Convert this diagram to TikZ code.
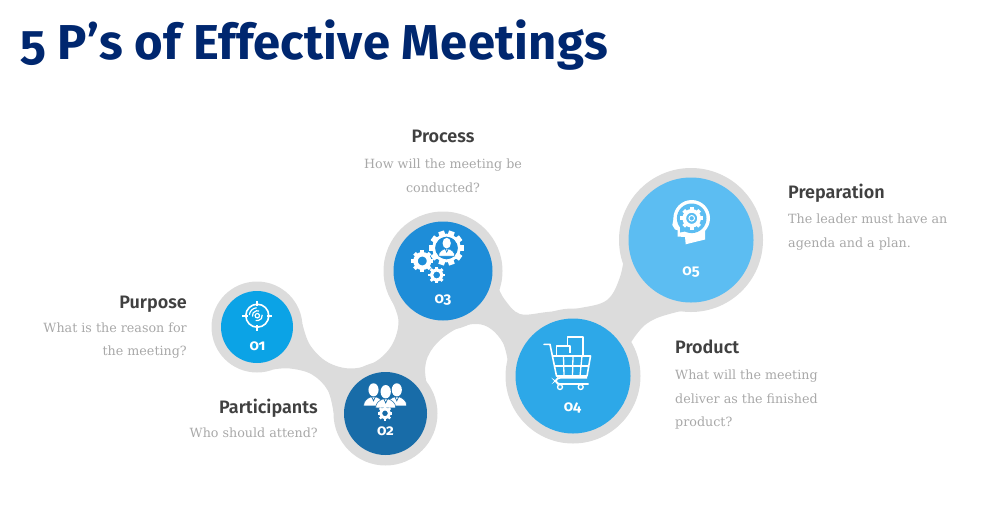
\documentclass[tikz,border=0pt]{standalone}
\usepackage{fontspec}
\usepackage{tikz}
\setmainfont{Fira Sans}
\newfontfamily\headfont[Numbers=OldStyle, Ligatures=CommonOff]{Fira Sans}
\newfontfamily\labelfont{Fira Sans SemiBold}
\newfontfamily\bodyfont{DejaVu Serif}
\definecolor{titleblue}{HTML}{00276F}
\definecolor{bandgray}{HTML}{DCDCDC}
\definecolor{headgray}{HTML}{404040}
\definecolor{bodygray}{HTML}{A8A8A8}
\definecolor{discA}{HTML}{0BA3E6}
\definecolor{discB}{HTML}{186CA8}
\definecolor{discC}{HTML}{1E8DD8}
\definecolor{discD}{HTML}{2DA8E8}
\definecolor{discE}{HTML}{5CBDF2}
% x y outer-radius hole-radius tooth-step
\newcommand{\gearicon}[5]{
	\begin{scope}[shift={(#1,#2)}]
		\draw [white, line width={0.82*#3-#4}] (0,0) circle [radius={(0.82*#3+#4)/2}];
		\foreach \a in {0,#5,...,359} {
			\draw [white, line width={0.34*#3}] (\a:0.65*#3) -- (\a:#3);
		}
	\end{scope}
}
% x y size shirt-colour
\newcommand{\personicon}[4]{
	\begin{scope}[shift={(#1,#2)}, scale=#3]
		\fill [white] (0,-6.5) ellipse [x radius=4.6, y radius=6];
		\fill [white, draw=#4, line width=0.5] (-9,8) .. controls (-9,3) and (-5,1) .. (-2.5,0) -- (2.5,0) .. controls (5,1) and (9,3) .. (9,8) -- cycle;
		\draw [#4, line width=0.7] (-1.6,0) -- (0,3.5) -- (1.6,0);
	\end{scope}
}
\begin{document}
\begin{tikzpicture}[x=1pt, y=-1pt,
	disc/.style={circle, inner sep=0pt, minimum size=#1},
	title/.style={text=titleblue, inner sep=0pt, font=\headfont\bfseries\fontsize{49}{52}\selectfont\addfontfeature{LetterSpace=0.65}},
	heading/.style={text=headgray, inner sep=0pt, font=\labelfont\fontsize{18}{20}\selectfont},
	bodytext/.style={text=bodygray, inner sep=0pt, font=\bodyfont\fontsize{12.7}{15}\selectfont},
	number/.style={text=white, inner sep=0pt, anchor=base, font=\headfont\bfseries\fontsize{15}{16}\selectfont},
	stroke/.style={draw=white, line width=1.6pt}]
	\useasboundingbox (0,0) rectangle (1000,509);

	\node (title) [title, anchor=base west] at (20,59) {5 P’s of Effective Meetings};

	% band, the gaps between the rings
	\fill [bandgray] plot [smooth, tension=0.6] coordinates {(302.5,324) (309.9,344.8) (327.3,362) (351,368.5) (374.8,362) (392,344.8) (398.5,321) (391,299)}
		-- (443,271)
		-- plot [smooth, tension=0.6] coordinates {(498,287) (505,300) (520,314) (547,312) (580,308) (607,300) (620,277) (625,250)}
		-- (691,240)
		-- plot [smooth, tension=0.6] coordinates {(682,311) (673,313) (657,318) (645,325) (636,335) (630,344)}
		-- (573,376)
		-- plot [smooth, tension=0.6] coordinates {(508,362) (503,343) (491,329) (477,324) (458,328) (437,343) (426,362) (427,385) (437,412)}
		-- (385,413)
		-- plot [smooth, tension=0.6] coordinates {(333.5,412.7) (327.7,390.2) (311.7,374.3) (290,368.5) (273.5,369.4)}
		-- (257,327) -- cycle;

	\node (ringA) [disc=91pt, fill=bandgray] at (257,327) {};
	\node (ringB) [disc=104pt, fill=bandgray] at (385.5,413.5) {};
	\node (ringC) [disc=119pt, fill=bandgray] at (443,271) {};
	\node (ringD) [disc=135pt, fill=bandgray] at (573,376) {};
	\node (ringE) [disc=144pt, fill=bandgray] at (691,240) {};

	\node (discA) [disc=72pt, fill=discA] at (ringA) {};
	\node (discB) [disc=83pt, fill=discB] at (ringB) {};
	\node (discC) [disc=99pt, fill=discC] at (ringC) {};
	\node (discD) [disc=115pt, fill=discD] at (ringD) {};
	\node (discE) [disc=125pt, fill=discE] at (ringE) {};

	\node (numA) [number] at (257.5,350) {01};
	\node (numB) [number] at (385.5,435) {02};
	\node (numC) [number] at (443,303) {03};
	\node (numD) [number] at (572.5,411) {04};
	\node (numE) [number] at (691,275) {05};

	% target
	\begin{scope}[shift={(257.3,315.7)}]
		\draw [stroke] (0,0) circle [radius=11.5];
		\foreach \a in {0,90,180,270} {
			\draw [stroke, line width=2pt] (\a:9.5) -- (\a:15);
		}
		\draw [stroke, line width=1.2pt] (0,0) circle [radius=2.2];
		\draw [stroke, line width=1.2pt] (170:5) arc [start angle=170, end angle=290, radius=5];
		\draw [stroke, line width=1.2pt] (-10:5) arc [start angle=-10, end angle=110, radius=5];
		\draw [stroke, line width=1.2pt] (185:8) arc [start angle=185, end angle=265, radius=8];
	\end{scope}

	% people and gear
	\personicon{373.5}{397}{1.1}{discB}
	\personicon{396.8}{397}{1.1}{discB}
	\personicon{385.7}{399}{1.12}{discB}
	\gearicon{385}{413.3}{7.3}{3}{45}

	% gears with person
	\gearicon{446.5}{248}{17.5}{11.5}{36}
	\gearicon{422.3}{261}{11}{4.5}{45}
	\gearicon{436.7}{275}{8.3}{3.6}{45}
	\personicon{446.7}{249}{0.9}{discC}

	% cart
	\draw [stroke, line cap=round, line join=round] (544,344.3) -- (550,344.3) -- (556.5,376) -- (587,376) -- (590.5,356) -- (552.5,356);
	\draw [stroke, line width=1.3pt] (554.3,366) -- (588.8,366);
	\foreach \x/\y in {563.5/564, 573/572.5, 582/580} {
		\draw [stroke, line width=1.3pt] (\x,356) -- (\y,376);
	}
	\draw [stroke, line join=round] (556.5,356) -- (556.5,346) -- (570,346) -- (570,352.5) (567.5,346) -- (567.5,336.7) -- (582.7,336.7) -- (582.7,356);
	\draw [stroke, rounded corners=2.5pt] (587,377.8) -- (558,377.8) -- (555.3,381) -- (558,384) -- (588.5,384);
	\draw [stroke, line width=1.3pt] (560,387) circle [radius=2.5];
	\draw [stroke, line width=1.3pt] (580.7,387) circle [radius=2.5];

	% head with gear
	\fill [white] (675,212) -- (672.3,225) -- (675,229.5) -- (677.5,230) -- (677.5,236.5) -- (685,237) -- (685.7,244.3) -- (705,239.5) -- (705,230) -- (709,218) -- (691,205) -- cycle;
	\fill [white] (691.7,218.3) circle [radius=18.3];
	\fill [discE] (691.7,218.3) circle [radius=14.8];
	\fill [discE] (680,226) -- (680,232.5) -- (687,231) -- cycle;
	\gearicon{691.7}{218.3}{11.3}{5.6}{45}
	\draw [white, line width=1pt] (691.7,218.3) circle [radius=2.8];

	\node (purpose) [heading, anchor=base east] at (187,308) {Purpose};
	\node (purposeA) [bodytext, anchor=base east] at (187,332) {What is the reason for};
	\node (purposeB) [bodytext, anchor=base east] at (187,355) {the meeting?};

	\node (participants) [heading, anchor=base east] at (318,413) {Participants};
	\node (participantsA) [bodytext, anchor=base east] at (318,437) {Who should attend?};

	\node (process) [heading, anchor=base] at (443,142) {Process};
	\node (processA) [bodytext, anchor=base] at (443,168) {How will the meeting be};
	\node (processB) [bodytext, anchor=base] at (443,192) {conducted?};

	\node (preparation) [heading, anchor=base west] at (788,198) {Preparation};
	\node (preparationA) [bodytext, anchor=base west] at (788,223) {The leader must have an};
	\node (preparationB) [bodytext, anchor=base west] at (788,247) {agenda and a plan.};

	\node (product) [heading, anchor=base west] at (675,353) {Product};
	\node (productA) [bodytext, anchor=base west] at (675,379) {What will the meeting};
	\node (productB) [bodytext, anchor=base west] at (675,403) {deliver as the finished};
	\node (productC) [bodytext, anchor=base west] at (675,426) {product?};
\end{tikzpicture}
\end{document}
